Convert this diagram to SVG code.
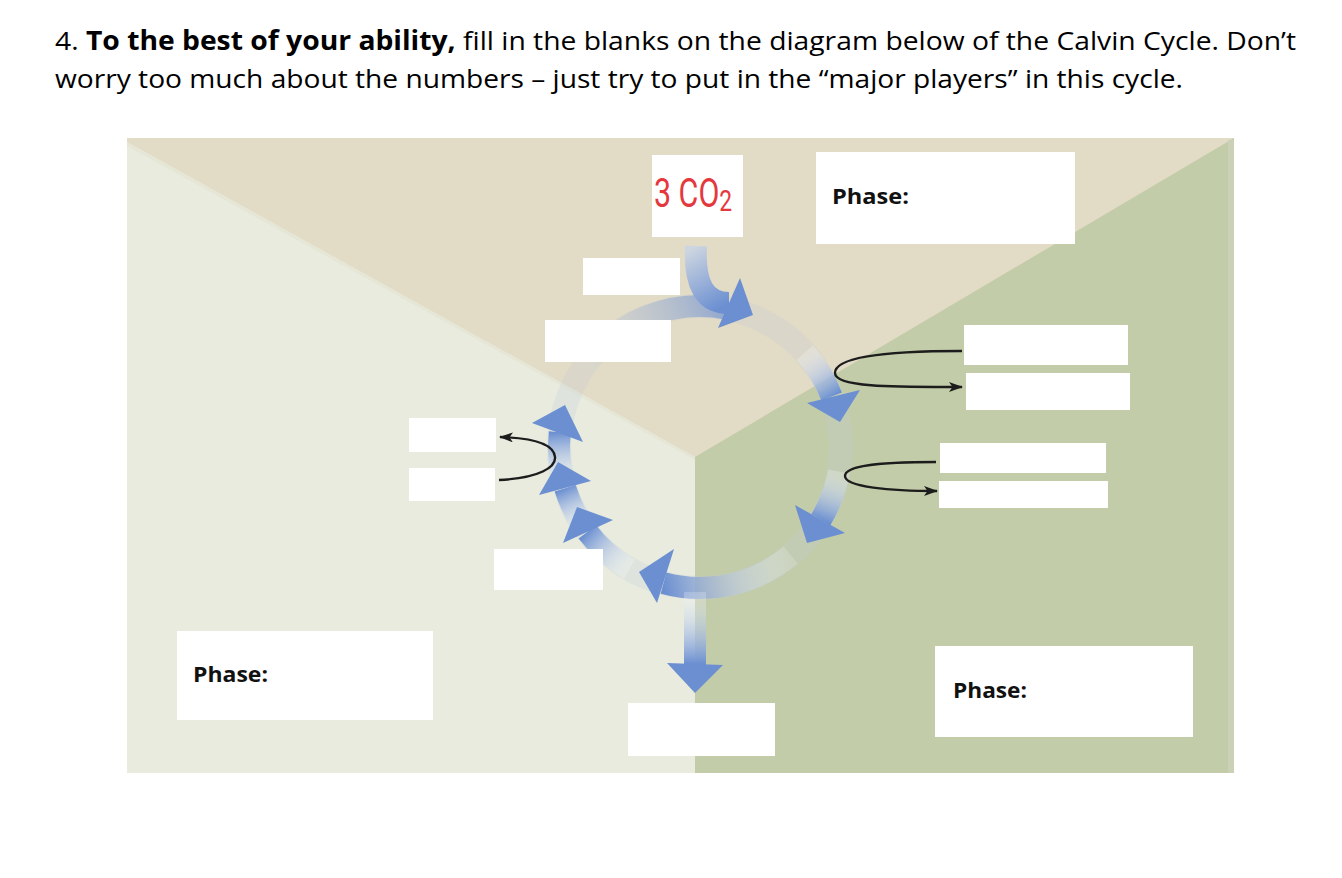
<svg xmlns="http://www.w3.org/2000/svg" width="1342" height="878" viewBox="0 0 1342 878">
<style>
.title{font-family:"Open Sans","Liberation Sans",sans-serif;font-size:26px;fill:#000}
.box{fill:#ffffff}
.phase{font-family:"Open Sans","Liberation Sans",sans-serif;font-size:21px;font-weight:bold;fill:#111}
.stem{fill:none;stroke-width:22}
.head{fill:#6b8fd1}
.conn{fill:none;stroke:#1c1c1c;stroke-width:2.4;marker-end:url(#ah)}
</style>
<defs>
<marker id="ah" viewBox="0 0 14 10" markerWidth="14" markerHeight="10" refX="13" refY="5" orient="auto" markerUnits="userSpaceOnUse"><path d="M0,0 L14,5 L0,10 L3.5,5 Z" fill="#1c1c1c"/></marker>
<linearGradient id="gH" gradientUnits="userSpaceOnUse" x1="696" y1="246" x2="729" y2="303"><stop offset="0" stop-color="#cdd5e0"/><stop offset="1" stop-color="#6b8fd1"/></linearGradient>
<linearGradient id="gTop" gradientUnits="userSpaceOnUse" x1="584" y1="366" x2="727" y2="309"><stop offset="0" stop-color="#c8ccd0" stop-opacity="0"/><stop offset="1" stop-color="#86a0cf" stop-opacity="0.9"/></linearGradient>
<linearGradient id="gG" gradientUnits="userSpaceOnUse" x1="805" y1="353" x2="832" y2="397"><stop offset="0" stop-color="#ffffff" stop-opacity="0.2"/><stop offset="1" stop-color="#6b8fd1"/></linearGradient>
<linearGradient id="gF" gradientUnits="userSpaceOnUse" x1="839" y1="471" x2="821" y2="520"><stop offset="0" stop-color="#ffffff" stop-opacity="0.2"/><stop offset="1" stop-color="#6b8fd1"/></linearGradient>
<linearGradient id="gE" gradientUnits="userSpaceOnUse" x1="791" y1="555" x2="663" y2="583"><stop offset="0" stop-color="#ffffff" stop-opacity="0.15"/><stop offset="0.6" stop-color="#a6b8d8" stop-opacity="0.7"/><stop offset="1" stop-color="#6b8fd1"/></linearGradient>
<linearGradient id="gC" gradientUnits="userSpaceOnUse" x1="629" y1="569" x2="587" y2="532"><stop offset="0" stop-color="#ffffff" stop-opacity="0.2"/><stop offset="1" stop-color="#6b8fd1"/></linearGradient>
<linearGradient id="gB" gradientUnits="userSpaceOnUse" x1="584" y1="528" x2="565" y2="488"><stop offset="0" stop-color="#ffffff" stop-opacity="0.3"/><stop offset="1" stop-color="#6b8fd1"/></linearGradient>
<linearGradient id="gA" gradientUnits="userSpaceOnUse" x1="564" y1="483" x2="560" y2="432"><stop offset="0" stop-color="#ffffff" stop-opacity="0.3"/><stop offset="1" stop-color="#6b8fd1"/></linearGradient>
<linearGradient id="gOut" gradientUnits="userSpaceOnUse" x1="695" y1="592" x2="695" y2="664"><stop offset="0" stop-color="#ffffff" stop-opacity="0.2"/><stop offset="1" stop-color="#6b8fd1"/></linearGradient>
</defs>

<rect width="1342" height="878" fill="#ffffff"/>

<g id="title">
<text class="title" x="55" y="50" textLength="1241" lengthAdjust="spacingAndGlyphs">4. <tspan font-weight="bold">To the best of your ability,</tspan> fill in the blanks on the diagram below of the Calvin Cycle. Don’t</text>
<text class="title" x="55" y="88" textLength="1128" lengthAdjust="spacingAndGlyphs">worry too much about the numbers – just try to put in the “major players” in this cycle.</text>
</g>

<g id="background">
<rect x="127" y="138" width="568" height="635" fill="#e8ebde"/>
<rect x="695" y="138" width="539" height="635" fill="#c3cca9"/>
<polygon points="127,138 1234,138 695,457 127,142" fill="#e2dbc6"/>
<polygon points="127,142 695,457 695,460 127,146" fill="#e6e6d6"/>
<rect x="1228" y="140" width="6" height="633" fill="#cbd1b6"/>
</g>

<g id="cycle">
<circle cx="700" cy="447" r="141" fill="none" stroke="#c2cbd8" stroke-opacity="0.24" stroke-width="24"/>
<path class="stem" stroke="url(#gTop)" d="M 584.5 366.1 A 141 141 0 0 1 726.9 308.6"/>
<path class="stem" stroke="url(#gG)" d="M 804.8 352.7 A 141 141 0 0 1 831.6 396.5"/>
<path class="stem" stroke="url(#gF)" d="M 838.9 471.5 A 141 141 0 0 1 820.9 519.6"/>
<path class="stem" stroke="url(#gE)" d="M 790.6 555.0 A 141 141 0 0 1 663.5 583.2"/>
<path class="stem" stroke="url(#gC)" d="M 629.5 569.1 A 141 141 0 0 1 587.4 531.9"/>
<path class="stem" stroke="url(#gB)" d="M 584.5 527.9 A 141 141 0 0 1 565.2 488.2"/>
<path class="stem" stroke="url(#gA)" d="M 563.8 483.5 A 141 141 0 0 1 559.8 432.3"/>
<path class="stem" stroke="url(#gH)" stroke-width="24" d="M 696 246 C 694 285 705 303 729 303"/>
<rect x="684" y="592" width="22" height="73" fill="url(#gOut)"/>
<polygon class="head" points="740,278 753,315 718,328"/>
<polygon class="head" points="807,403 860,390 840,422"/>
<polygon class="head" points="795,505 845,533 807,543"/>
<polygon class="head" points="674,549 657,603 639,572"/>
<polygon class="head" points="563,543 613,520 577,507"/>
<polygon class="head" points="539,495 591,481 558,462"/>
<polygon class="head" points="532,423 583,442 565,405"/>
<polygon class="head" points="667,663 723,665 695,693"/>
</g>

<g id="co2">
<rect class="box" x="652" y="155" width="91" height="82"/>
<text transform="translate(654,207) scale(0.76,1)" font-family="Roboto,'Liberation Sans',sans-serif" font-size="40" fill="#e5383d">3 CO<tspan font-size="30" dy="4">2</tspan></text>
</g>
<g id="phase-top"><rect class="box" x="816" y="152" width="259" height="92"/><text class="phase" x="832" y="204" textLength="77" lengthAdjust="spacingAndGlyphs">Phase:</text></g>
<g id="phase-left"><rect class="box" x="177" y="631" width="256" height="89"/><text class="phase" x="193" y="682" textLength="75" lengthAdjust="spacingAndGlyphs">Phase:</text></g>
<g id="phase-right"><rect class="box" x="935" y="646" width="258" height="91"/><text class="phase" x="953" y="698" textLength="74" lengthAdjust="spacingAndGlyphs">Phase:</text></g>
<g id="box-a"><rect class="box" x="583" y="258" width="97" height="37"/></g>
<g id="box-b"><rect class="box" x="545" y="320" width="126" height="42"/></g>
<g id="box-r1"><rect class="box" x="964" y="325" width="164" height="40"/></g>
<g id="box-r2"><rect class="box" x="966" y="373" width="164" height="37"/></g>
<g id="box-r3"><rect class="box" x="940" y="443" width="166" height="30"/></g>
<g id="box-r4"><rect class="box" x="939" y="481" width="169" height="27"/></g>
<g id="box-l1"><rect class="box" x="409" y="418" width="87" height="34"/></g>
<g id="box-l2"><rect class="box" x="409" y="468" width="86" height="33"/></g>
<g id="box-c"><rect class="box" x="494" y="549" width="109" height="41"/></g>
<g id="box-d"><rect class="box" x="628" y="703" width="147" height="53"/></g>

<g id="connectors">
<path class="conn" d="M 962 351 C 880 351 835 358 835 373 C 835 388 900 387 962 387"/>
<path class="conn" d="M 936 462 C 870 462 845 467 845 476 C 845 487 890 491 937 491"/>
<path class="conn" d="M 499 480 C 540 478 556 467 555 457 C 554 445 535 438 500 437"/>
</g>
</svg>
